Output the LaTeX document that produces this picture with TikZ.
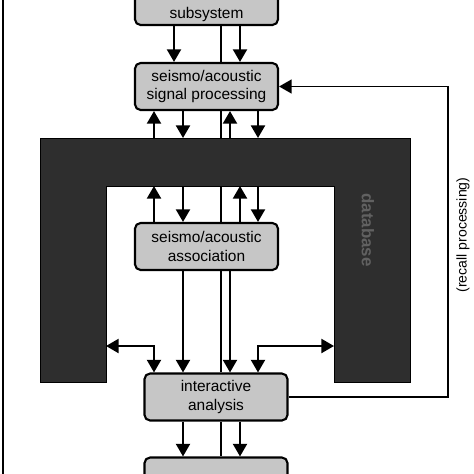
\documentclass[tikz,border=0pt]{standalone}
\usepackage{fontspec}
\setmainfont{Liberation Sans}
\usetikzlibrary{arrows.meta}

\tikzset{
  caja/.style={draw=black, line width=1.5pt, rounded corners=4pt, fill=gray!45,
    minimum width=3.575cm, minimum height=1.175cm, inner sep=0pt, align=center,
    font=\fontsize{11}{13}\selectfont},
  linea/.style={line width=1.5pt},
  flecha/.style={line width=1.5pt, -{Triangle[length=9pt,width=10pt]}},
  doble/.style={line width=1.5pt, {Triangle[length=9pt,width=10pt]}-{Triangle[length=9pt,width=10pt]}},
}

\begin{document}
\begin{tikzpicture}[x=0.025cm, y=-0.025cm]
        \clip (0,0) rectangle (474,474);

        % Marco izquierdo
        \draw[line width=0.9pt] (3,0) -- (3,474);

        % Base de datos
        \draw[fill=black!82, thin] (40,138) -- (410,138) -- (410,382) -- (334,382) -- (334,186)
              -- (106,186) -- (106,382) -- (40,382) -- cycle;
        \node[rotate=-90, text=black!62, font=\bfseries\fontsize{12}{14}\selectfont] (dblabel) at (368,230) {database};
        \coordinate (dbtop) at (206,138);
        \coordinate (dbin) at (206,186);
        \coordinate (dbizq) at (106,346);
        \coordinate (dbder) at (334,346);

        % Cajas
        \node[caja] (sub) at (206.5,1.5) {};
        \node[font=\fontsize{11}{13}\selectfont] (subtxt) at (206.5,14) {subsystem};
        \node[caja] (sig) at (206.5,86.5) {seismo/acoustic\\signal processing};
        \node[caja] (asoc) at (206.5,246.5) {seismo/acoustic\\association};
        \node[caja] (inter) at (216,397) {interactive\\analysis};
        \node[caja] (fin) at (216,481) {};

        % Columnas
        \coordinate (c0) at (174,0);
        \coordinate (c1) at (154,0);
        \coordinate (c2) at (183,0);
        \coordinate (c3) at (221,0);
        \coordinate (c4) at (230,0);
        \coordinate (c5) at (240,0);
        \coordinate (c6) at (258,0);
        \coordinate (r1) at (448,0);

        % Linea central
        \draw[linea] (sub.south -| c3) -- (sig.north -| c3);
        \draw[linea] (sig.south -| c3) -- (dbtop -| c3);
        \draw[linea] (dbin -| c3) -- (asoc.north -| c3);
        \draw[linea] (asoc.south -| c3) -- (inter.north -| c3);
        \draw[linea] (inter.south -| c3) -- (fin.north -| c3);

        % Flechas de arriba
        \draw[flecha] (sub.south -| c0) -- (sig.north -| c0);
        \draw[flecha] (sub.south -| c5) -- (sig.north -| c5);

        % Procesamiento y base de datos
        \draw[flecha] (dbtop -| c1) -- (sig.south -| c1);
        \draw[flecha] (sig.south -| c2) -- (dbtop -| c2);
        \draw[flecha] (dbtop -| c4) -- (sig.south -| c4);
        \draw[flecha] (sig.south -| c6) -- (dbtop -| c6);

        % Asociacion y base de datos
        \draw[flecha] (asoc.north -| c1) -- (dbin -| c1);
        \draw[flecha] (dbin -| c2) -- (asoc.north -| c2);
        \draw[flecha] (asoc.north -| c5) -- (dbin -| c5);
        \draw[flecha] (dbin -| c6) -- (asoc.north -| c6);

        % Hacia el analisis
        \draw[flecha] (asoc.south -| c2) -- (inter.north -| c2);
        \draw[flecha] (asoc.south -| c4) -- (inter.north -| c4);
        \draw[doble] (dbizq) -- (dbizq -| c1) -- (inter.north -| c1);
        \draw[doble] (dbder) -- (dbder -| c6) -- (inter.north -| c6);

        % Salida
        \draw[flecha] (inter.south -| c2) -- (fin.north -| c2);
        \draw[flecha] (inter.south -| c5) -- (fin.north -| c5);

        % Reprocesamiento
        \draw[line width=1.1pt, -{Triangle[length=9pt,width=10pt]}] (inter.east) -- (inter.east -| r1)
              -- (sig.east -| r1) -- (sig.east);
        \node[rotate=90, font=\fontsize{10}{12}\selectfont] (recall) at (463,235) {(recall processing)};
    \end{tikzpicture}
\end{document}
